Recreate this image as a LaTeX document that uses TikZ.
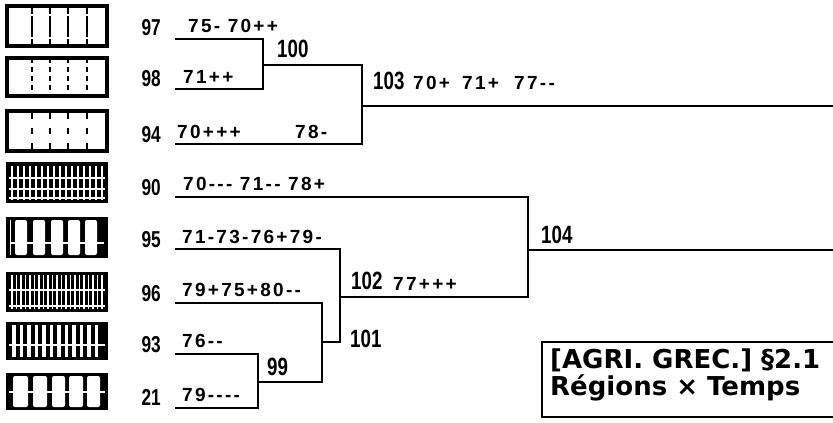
\documentclass[tikz,border=0pt]{standalone}
\usepackage{fontspec}
\setmainfont{Liberation Sans}
\newfontfamily\rowfont{Liberation Sans}[FakeStretch=0.75]
\newfontfamily\labfont{Liberation Sans}[LetterSpace=12]
\newfontfamily\boxfont{DejaVu Sans}
\tikzset{
  link/.style={line width=2.4pt, line cap=square},
  rownum/.style={anchor=base east, inner sep=0pt, font=\rowfont\bfseries\fontsize{23}{25}\selectfont},
  clnum/.style={anchor=base west, inner sep=0pt, font=\rowfont\bfseries\fontsize{25}{27}\selectfont},
  lab/.style={anchor=base west, inner sep=0pt, font=\labfont\bfseries\fontsize{19}{21}\selectfont},
  frame/.style={line width=3.5pt},
  wline/.style={white, line width=1.4pt},
}
\begin{document}
\begin{tikzpicture}[x=1pt,y=-1pt]
\useasboundingbox (0,0) rectangle (833,423);
% ---------- icons ----------
% 97
\draw[frame, fill=white] (7,6) rectangle (107,46);
\foreach \x in {32,50,68,87} \draw[line width=2.8pt] (\x,6) -- (\x,46);
\draw[white, line width=1.3pt] (9,15) -- (105,15) (9,38) -- (105,38);
% 98
\draw[frame, fill=white] (7,58) rectangle (107,96);
\foreach \x in {32,50,68,87} \draw[line width=2.8pt, dash pattern=on 5pt off 4pt] (\x,58) -- (\x,96);
% 94
\draw[frame, fill=white] (7,111) rectangle (107,151);
\foreach \x in {32,50,68,87} {
  \draw[line width=2.8pt] (\x,111) -- (\x,119) (\x,143) -- (\x,151) (\x,128) -- (\x,134);
}
% 90
\fill (6,162) rectangle (108,203);
\foreach \x in {12,18,...,104} \draw[wline, line width=1.2pt] (\x,166) -- (\x,200);
\draw[wline] (9,178) -- (105,178) (9,189) -- (105,189) (9,198) -- (105,198);
% 95
\fill (6,217) rectangle (108,258);
\foreach \a/\b in {15/27,33/45,51/63,68/80,85/97} \fill[white, rounded corners=2pt] (\a,220) rectangle (\b,255);
\draw[wline] (10,243) -- (104,243);
\draw[wline, line width=1pt] (10,220) -- (10,255);
% 96
\fill (6,272) rectangle (108,312);
\foreach \x in {12,16.5,...,104} \draw[wline, line width=1.3pt] (\x,275) -- (\x,309);
\draw[wline] (9,290) -- (105,290) (9,306) -- (105,306);
% 93
\fill (6,322) rectangle (108,360);
\foreach \x in {14,21.5,...,102} \fill[white] (\x-1.8,325) rectangle (\x+1.8,357);
\draw[wline] (9,345) -- (105,345);
% 21
\fill (6,373) rectangle (108,410);
\foreach \a/\b in {13/28,33/47,52/65,69/83,87/100} \fill[white, rounded corners=2pt] (\a,376) rectangle (\b,407);
\draw[wline] (9,392) -- (105,392);
% ---------- row numbers ----------
\node[rownum] (n97) at (161,35) {97};
\node[rownum] (n98) at (161,86) {98};
\node[rownum] (n94) at (161,142) {94};
\node[rownum] (n90) at (161,195) {90};
\node[rownum] (n95) at (161,247) {95};
\node[rownum] (n96) at (161,301) {96};
\node[rownum] (n93) at (161,352) {93};
\node[rownum] (n21) at (161,405) {21};
% ---------- leaf line starts ----------
\coordinate (l97) at (175,39);
\coordinate (l98) at (175,89);
\coordinate (l94) at (175,144);
\coordinate (l90) at (175,197);
\coordinate (l95) at (175,249);
\coordinate (l96) at (175,303);
\coordinate (l93) at (175,354);
\coordinate (l21) at (175,408);
% junctions
\coordinate (c100) at (263,65);
\coordinate (c103) at (362,106);
\coordinate (e103) at (833,106);
\coordinate (c99) at (258,382);
\coordinate (c101) at (322,342);
\coordinate (c102) at (340,297);
\coordinate (c104) at (528,250);
\coordinate (e104) at (833,250);
% ---------- connectors ----------
\draw[link] (l97) -| (c100) |- (l98);
\draw[link] (c100) -| (c103) |- (l94);
\draw[link] (c103) -- (e103);
\draw[link] (l93) -| (c99) |- (l21);
\draw[link] (c99) -| (c101) |- (l96);
\draw[link] (c101) -| (c102) |- (l95);
\draw[link] (c102) -| (c104) |- (l90);
\draw[link] (c104) -- (e104);
% ---------- labels ----------
\node[lab] (t97) at (188,32) {75- 70++};
\node[lab] (t98) at (183,83) {71++};
\node[lab] (t94a) at (177,138) {70+++};
\node[lab] (t94b) at (295,138) {78-};
\node[lab] (t90) at (183,190) {70--- 71-- 78+};
\node[lab] (t95) at (182,243) {71-73-76+79-};
\node[lab] (t96) at (182,296) {79+75+80--};
\node[lab] (t93) at (182,347) {76--};
\node[lab] (t21) at (182,401) {79----};
\node[clnum] (k100) at (277,57) {100};
\node[clnum] (k103) at (373,89) {103};
\node[lab] (t103a) at (413,89) {70+};
\node[lab] (t103b) at (462,89) {71+};
\node[lab] (t103c) at (514,89) {77--};
\node[clnum] (k102) at (351,289) {102};
\node[lab] (t102) at (393,290) {77+++};
\node[clnum] (k101) at (350,347) {101};
\node[clnum] (k99) at (267,375) {99};
\node[clnum] (k104) at (541,243) {104};
% ---------- title box ----------
\draw[line width=2pt] (833,342) -- (542,342) -- (542,417) -- (833,417);
\node[anchor=north west, inner sep=0pt, align=left, font=\boxfont\bfseries\fontsize{26}{27}\selectfont] (title) at (550,349) {[AGRI. GREC.] §2.1\\Régions × Temps};
\end{tikzpicture}
\end{document}
